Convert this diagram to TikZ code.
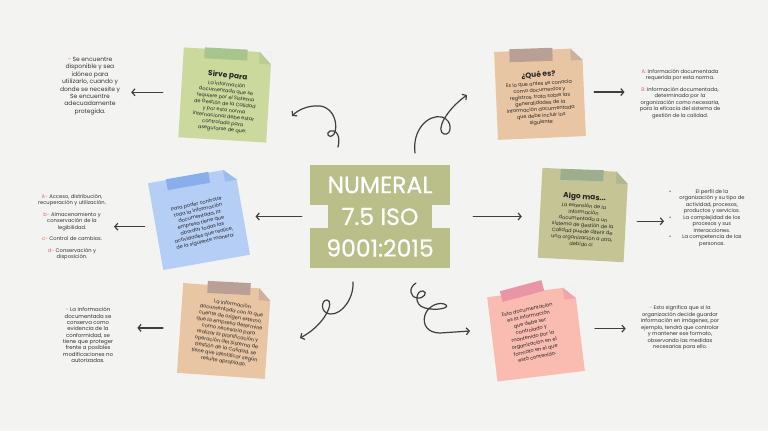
\documentclass[tikz,border=0pt]{standalone}
\usepackage{fontspec}
\setmainfont{Poppins}
\newfontfamily\titulofont{Poppins}[FakeBold=0.7]
\usepackage{xcolor}
\usepackage{tikz}
\usetikzlibrary{arrows.meta, calc}

\definecolor{fondo}{HTML}{F3F3F1}
\definecolor{trazo}{HTML}{3F403C}
\definecolor{rojo}{HTML}{F0605F}
\definecolor{olivo}{HTML}{BABE88}
\definecolor{verde}{HTML}{CCD99C}
\definecolor{verdeC}{HTML}{A9C58E}
\definecolor{durazno}{HTML}{E8C6A4}
\definecolor{duraznoC}{HTML}{B8A096}
\definecolor{azul}{HTML}{B5CEF6}
\definecolor{azulC}{HTML}{88AEEB}
\definecolor{caqui}{HTML}{C5C495}
\definecolor{caquiC}{HTML}{9DAE8C}
\definecolor{rosa}{HTML}{FABCB1}
\definecolor{rosaC}{HTML}{E995A5}

\tikzset{
  nota/.style={inner sep=0pt, minimum width=88pt, minimum height=90pt},
  cinta/.style={inner sep=0pt, minimum width=43pt, minimum height=11pt},
  notatxt/.style={align=center, text=black!85, font=\fontsize{5}{6.4}\selectfont, inner sep=0pt},
  txt/.style={align=center, text=black!80, font=\fontsize{5.2}{6.5}\selectfont, inner sep=0pt},
  flecha/.style={draw=trazo, line width=1.2pt, line cap=round, -{Straight Barb[length=3pt,width=7pt]}},
  titulo/.style={fill=olivo, text=white, inner sep=0pt, font=\titulofont\fontsize{23.5}{26}\selectfont}
}
\newcommand{\tit}[1]{{\fontsize{7.5}{9}\selectfont\bfseries #1}\\[2pt]}
\newcommand{\ro}[1]{\textcolor{rojo}{#1}}

\begin{document}
\begin{tikzpicture}[x=1pt, y=-1pt]
\fill[fondo] (0,0) rectangle (768,431);
\useasboundingbox (0,0) rectangle (768,431);

% titulo central
\node[titulo, minimum width=140pt, minimum height=40pt] (l1) at (380,185) {NUMERAL};
\node[titulo, minimum width=104pt, minimum height=23pt] (l2) at (380,216.5) {7.5 ISO};
\node[titulo, minimum width=140pt, minimum height=40pt] (l3) at (380,248) {9001:2015};

% notas
\node[nota, fill=verde, rotate=-3.5] (sirve) at (225,95) {};
\node[nota, fill=durazno, rotate=2.5, minimum height=88pt] (quees) at (540,94) {};
\node[nota, fill=azul, rotate=10, minimum height=88pt] (controlar) at (199,219) {};
\node[nota, fill=caqui, rotate=-3, minimum width=86pt] (algomas) at (583,215) {};
\node[nota, fill=durazno, rotate=-4] (externa) at (224,331) {};
\node[nota, fill=rosa, rotate=7, minimum height=85pt] (formato) at (536,334) {};

\foreach \n/\p/\c in {sirve/verde/verdeC, quees/durazno/duraznoC, controlar/azul/azulC, algomas/caqui/caquiC, externa/durazno/duraznoC, formato/rosa/rosaC}
{
    \coordinate (a) at ($(\n.north east)!12pt!(\n.north west)$);
    \coordinate (b) at ($(\n.north east)!12pt!(\n.south east)$);
    \fill[fondo] (\n.north east) -- (a) -- (b) -- cycle;
    \fill[\c!55!\p] (a) -- (b) -- ($(a)+(b)-(\n.north east)$) -- cycle;
};

\node[cinta, fill=verdeC, rotate=-3] (sirve-cinta) at (226,54) {};
\node[cinta, fill=duraznoC, rotate=2, minimum height=13pt] (quees-cinta) at (531,55) {};
\node[cinta, fill=azulC, rotate=10] (controlar-cinta) at (188,181) {};
\node[cinta, fill=caquiC, rotate=-2] (algomas-cinta) at (582,175) {};
\node[cinta, fill=duraznoC, rotate=-3, minimum height=12pt] (externa-cinta) at (229,288) {};
\node[cinta, fill=rosaC, rotate=15] (formato-cinta) at (522,291) {};

% textos de las notas
\node[notatxt, rotate=-6] (sirve-txt) at (225,102) {\tit{Sirve para}La información\\documentada que se\\requiere por el Sistema\\de Gestión de la Calidad\\y por esta norma\\internacional debe estar\\controlada para\\asegurarse de que:};
\node[notatxt, rotate=4] (quees-txt) at (540,98) {\tit{¿Qué es?}Es lo que antes se conocía\\como documentos y\\registros, trata sobre las\\generalidades de la\\información documentada\\que debe incluir los\\siguiente:};
\node[notatxt, rotate=13] (controlar-txt) at (201,223) {Para poder controlar\\toda la información\\documentada, la\\empresa tiene que\\abordar todas las\\actividades que realice,\\de la siguiente manera:};
\node[notatxt, rotate=-4] (algomas-txt) at (583,220) {\tit{Algo mas...}La extensión de la\\información\\documentada a un\\sistema de gestión de la\\Calidad puede diferir de\\una organización a otra,\\debido a:};
\node[notatxt, rotate=-9] (externa-txt) at (228,333) {La información\\documentada con la que\\cuente de origen externo,\\que la empresa determine\\como necesaria para\\realizar la planificación y\\operación del Sistema de\\Gestión de la Calidad, se\\tiene que identificar según\\resulte apropiado.};
\node[notatxt, rotate=12, font=\fontsize{5}{6.9}\selectfont] (formato-txt) at (532,333) {Esta documentación\\es la información\\que debe ser\\controlado y\\mantenido por la\\organización en el\\formato en el que\\está contenido.};

% textos exteriores
\node[txt, font=\fontsize{6}{7.4}\selectfont] (sirve-fin) at (90,86) {\ro{-} Se encuentre\\disponible y sea\\idóneo para\\utilizarlo, cuando y\\donde se necesite y\\Se encuentre\\adecuadamente\\protegida.};
\node[txt] (quees-fin) at (680,94) {\ro{A:} Información documentada\\requerida por esta norma.\\[5pt]\ro{B:} Información documentada,\\determinada por la\\organización como necesaria,\\para la eficacia del sistema de\\gestión de la calidad.};
\node[txt] (controlar-fin) at (72,227) {\ro{A-} Acceso, distribución,\\recuperación y utilización.\\[5pt]\ro{b-} Almacenamiento y\\conservación de la\\legibilidad.\\[5pt]\ro{c-} Control de cambios.\\[5pt]\ro{d-} Conservación y\\disposición.};
\node[txt, anchor=west] (algomas-fin) at (669,218) {\begin{tabular}{@{}l@{\hspace{8pt}}c@{}}
\textbullet & El perfil de la\\
 & organización y su tipo de\\
 & actividad, procesos,\\
 & productos y servicios.\\
\textbullet & La complejidad de los\\
 & procesos y sus\\
 & interacciones.\\
\textbullet & La competencia de las\\
 & personas.
\end{tabular}};
\node[txt, font=\fontsize{5.4}{6.3}\selectfont] (externa-fin) at (88,335) {\ro{-} La información\\documentada se\\conserva como\\evidencia de la\\conformidad, se\\tiene que proteger\\frente a posibles\\modificaciones no\\autorizadas.};
\node[txt] (formato-fin) at (680,328) {\ro{-} Esto significa que si la\\organización decide guardar\\información en imágenes, por\\ejemplo, tendrá que controlar\\y mantener ese formato,\\observando las medidas\\necesarias para ello.};

% flechas rectas
\draw[flecha, shorten <=18pt, shorten >=11pt] (sirve.west) -- (sirve.west -| sirve-fin.east);
\draw[flecha, shorten <=10pt, shorten >=15pt] (quees.east) -- (quees.east -| quees-fin.west);
\draw[flecha, shorten <=11pt, shorten >=8pt] (controlar.west) -- (controlar.west -| controlar-fin.east);
\draw[flecha, shorten <=26pt, shorten >=13pt] (l2.west) -- (l2.west -| controlar.east);
\draw[flecha, shorten <=41pt, shorten >=18pt] (l2.east) -- (l2.east -| algomas.west);
\draw[flecha, shorten <=11pt, shorten >=5pt] ([yshift=-4pt]algomas.east) -- ([yshift=-4pt]algomas.east -| algomas-fin.west);
\draw[flecha, shorten <=17pt, shorten >=24pt] (externa.west) -- (externa.west -| externa-fin.east);
\draw[flecha, shorten <=15pt, shorten >=15pt] (formato.east) -- (formato.east -| formato-fin.west);

% flechas en espiral
\draw[flecha] (338,147) .. controls (341,136) and (336,129) .. (330,131) .. controls (325,133) and (329,140) .. (334,134) .. controls (338,128) and (336,108) .. (320,106) .. controls (308,105) and (298,110) .. (292,116);
\draw[flecha] (415,153) .. controls (412,130) and (428,114) .. (442,117) .. controls (453,120) and (452,136) .. (444,134) .. controls (435,131) and (446,110) .. (467,95);
\draw[flecha] (353,282) .. controls (354,298) and (342,315) .. (330,314) .. controls (320,313) and (321,300) .. (327,300) .. controls (335,301) and (325,325) .. (300,338);
\draw[flecha] (416,283) .. controls (408,288) and (410,297) .. (417,298) .. controls (424,299) and (428,292) .. (423,291) .. controls (416,290) and (413,305) .. (425,308) .. controls (436,311) and (450,308) .. (446,305) .. controls (441,301) and (428,305) .. (425,315) .. controls (422,325) and (428,333) .. (440,333) -- (470,331);
\end{tikzpicture}
\end{document}
